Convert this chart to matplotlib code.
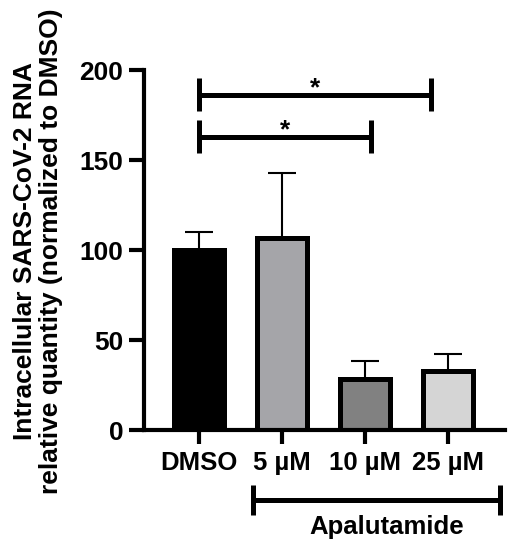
import matplotlib
matplotlib.use('Agg')
import matplotlib.pyplot as plt
import matplotlib.transforms as mtransforms

plt.rcParams['font.family'] = ['Liberation Sans', 'DejaVu Sans']
plt.rcParams['font.weight'] = 'bold'

groups = ['DMSO', '5 µM', '10 µM', '25 µM']
rna = [100, 106.5, 28.5, 33]
rna_sd = [10, 36.5, 10, 9]
bar_colors = ['#000000', '#a5a5a9', '#818181', '#d5d5d5']
yticks = [0, 50, 100, 150, 200]
# significance brackets: (start, end, height, label)
sig = [(0, 2.8, 186, '*'), (0, 2.08, 163, '*')]
treatment = 'Apalutamide'

fig = plt.figure(figsize=(5.2, 5.5), dpi=100)
ax = fig.add_axes([144/520, 120/550, 361/520, 360/550])

x = list(range(len(groups)))
ax.bar(x, rna, width=0.6, color=bar_colors, edgecolor='black', linewidth=3.6, zorder=2)
ax.errorbar(x, rna, yerr=[[0]*len(rna), rna_sd], fmt='none', ecolor='black',
            elinewidth=1.5, capsize=10, capthick=1.5, zorder=1)

ax.set_xlim(-0.66, 3.69)
ax.set_ylim(0, 200)
ax.set_yticks(yticks)
ax.set_xticks(x)
ax.set_xticklabels(groups, fontsize=18.5, fontweight='bold')
ax.tick_params(axis='y', labelsize=19, width=3, length=11, pad=4)
ax.tick_params(axis='x', width=3, length=10, pad=5)
for s in ['top', 'right']:
    ax.spines[s].set_visible(False)
for s in ['left', 'bottom']:
    ax.spines[s].set_linewidth(3)

# significance brackets
for x0, x1, h, lab in sig:
    ax.plot([x0, x1], [h, h], color='black', lw=3.6, clip_on=False, solid_capstyle='butt')
    ax.plot([x0, x0], [h - 9, h + 9.5], color='black', lw=3.6, clip_on=False, solid_capstyle='butt')
    ax.plot([x1, x1], [h - 9, h + 9.5], color='black', lw=3.6, clip_on=False, solid_capstyle='butt')
    ax.text((x0 + x1) / 2, h - 3, lab, ha='center', va='bottom', fontsize=19, fontweight='bold')

# treatment bracket under the axis
tr = mtransforms.blended_transform_factory(ax.transData, ax.transAxes)
ax.plot([0.65, 3.63], [-0.194, -0.194], color='black', lw=3.6, transform=tr, clip_on=False,
        solid_capstyle='butt')
for xe in [0.65, 3.63]:
    ax.plot([xe, xe], [-0.153, -0.236], color='black', lw=3.6, transform=tr, clip_on=False,
            solid_capstyle='butt')
ax.text(2.26, -0.27, treatment, transform=tr, ha='center', va='center', fontsize=18.5,
        fontweight='bold')

fig.text(38/520, 1 - 251/550,
         'Intracellular SARS-CoV-2 RNA\nrelative quantity (normalized to DMSO)',
         rotation=90, ha='center', va='center', multialignment='center',
         fontsize=19, fontweight='bold', linespacing=1.15)

fig.savefig('out.png', dpi=100)
